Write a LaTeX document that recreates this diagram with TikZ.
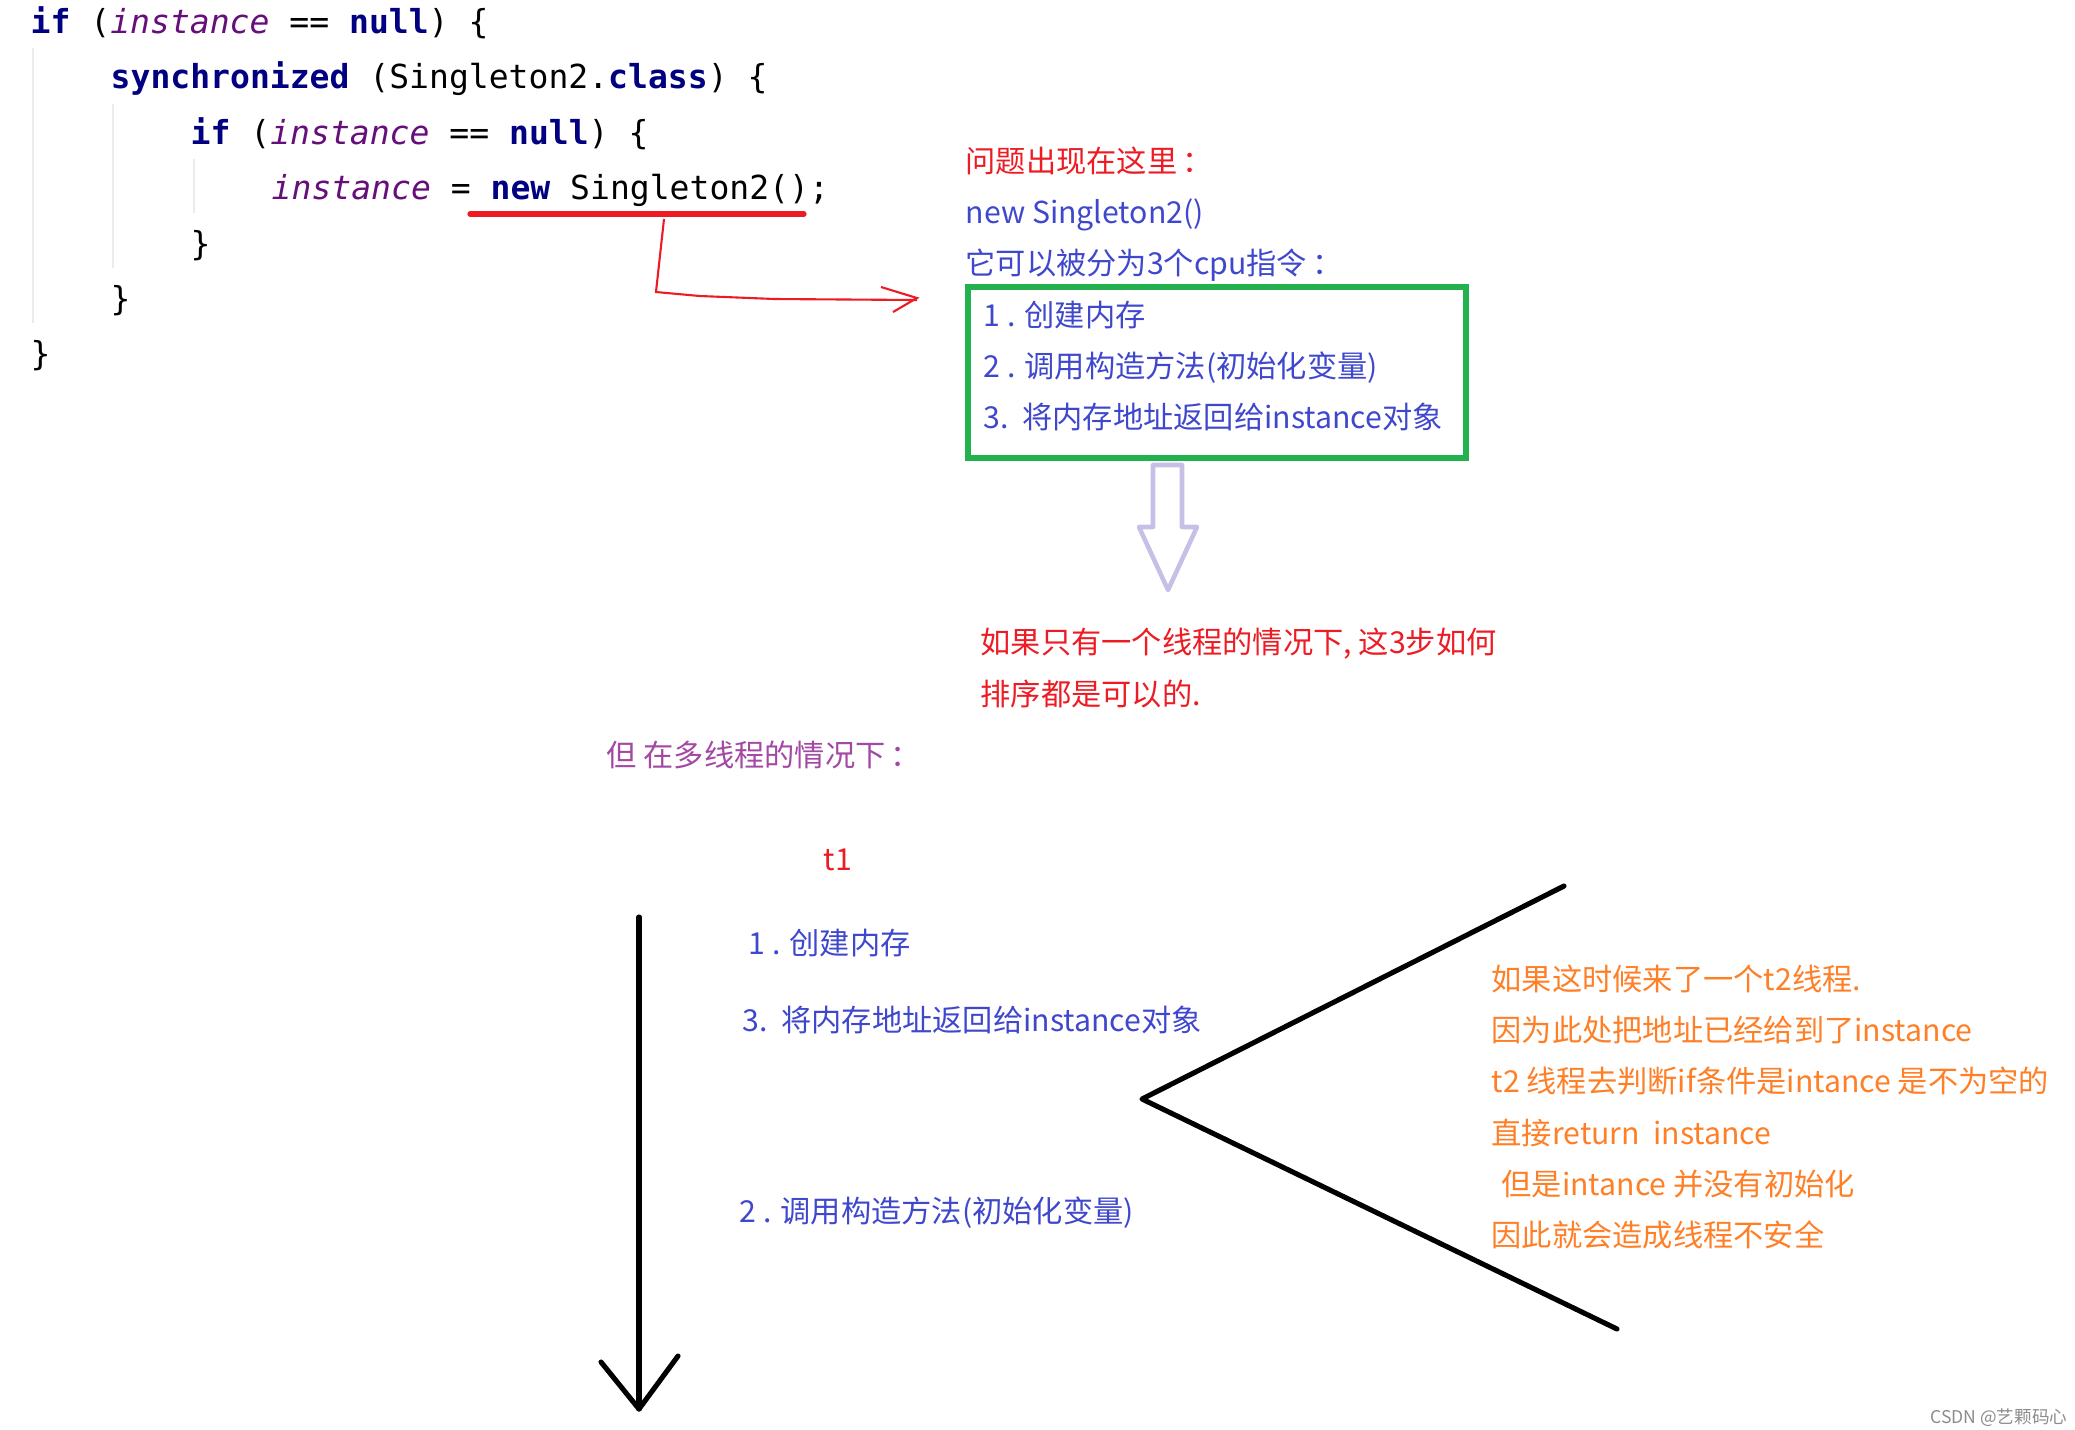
\documentclass[tikz,border=0pt]{standalone}
\usepackage{fontspec}
\setmainfont{Noto Sans CJK SC}
\setmonofont{DejaVu Sans Mono}
\definecolor{keyblue}{HTML}{000080}
\definecolor{fieldpurple}{HTML}{660E7A}
\definecolor{notered}{HTML}{ED1C24}
\definecolor{noteblue}{HTML}{3F48CC}
\definecolor{noteorange}{HTML}{FF7F27}
\definecolor{notepurple}{HTML}{A349A4}
\definecolor{boxgreen}{HTML}{22B14C}
\definecolor{arrowlilac}{HTML}{C8BFE7}
\newcommand{\kw}[1]{\textcolor{keyblue}{\bfseries #1}}
\newcommand{\fld}[1]{\textcolor{fieldpurple}{\itshape #1}}
\tikzset{
	codeline/.style={anchor=base west, inner sep=0pt, font=\ttfamily\fontsize{9.4pt}{11pt}\selectfont},
	note/.style={anchor=base west, inner sep=0pt, font=\fontsize{8.6pt}{10pt}\selectfont},
	guide/.style={draw=black!8, line width=0.3pt},
	pen/.style={line width=1.45pt, line cap=round, line join=round},
	thinpen/.style={notered, line width=0.6pt}
}
\begin{document}
\begin{tikzpicture}[x=0.01cm, y=-0.01cm]
\useasboundingbox (0, 0) rectangle (2075, 1429);

\foreach \gx/\gtop/\gbot in {33/48/323, 113/104/268, 194/159/213}
	\draw[guide] (\gx, \gtop) -- (\gx, \gbot);

\node[codeline] (line1) at (30, 33) {\kw{if} (\fld{instance} == \kw{null}) \{};
\node[codeline] (line2) at (110, 88) {\kw{synchronized} (Singleton2.\kw{class}) \{};
\node[codeline] (line3) at (190, 144) {\kw{if} (\fld{instance} == \kw{null}) \{};
\node[codeline] (line4) at (271, 199) {\fld{instance} = \kw{new} Singleton2();};
\node[codeline] (line5) at (190, 255) {\}};
\node[codeline] (line6) at (110, 310) {\}};
\node[codeline] (line7) at (30, 365) {\}};

\coordinate (underL) at (470, 214);
\coordinate (underR) at (804, 214);
\draw[notered, line width=1.5pt, line cap=round] (underL) -- (underR);

\coordinate (bendA) at (664, 219);
\coordinate (bendB) at (656, 292);
\coordinate (bendC) at (700, 296);
\coordinate (bendD) at (775, 299);
\coordinate (tipA) at (917, 300);
\draw[thinpen] (bendA) -- (bendB) -- (bendC) -- (bendD) -- (tipA);
\draw[thinpen] (881, 287) -- (917, 298) -- (893, 312);

\node[note, text=notered] (title) at (965, 172) {问题出现在这里\,：};
\node[note, text=noteblue] (newcall) at (965, 223) {new Singleton2()};
\node[note, text=noteblue] (split) at (965, 274) {它可以被分为3个cpu指令\,：};

\coordinate (boxNW) at (968, 287);
\coordinate (boxSE) at (1466, 458);
\draw[boxgreen, line width=1.5pt] (boxNW) rectangle (boxSE);
\node[note, text=noteblue] (boxa) at (983, 326) {1 . 创建内存};
\node[note, text=noteblue] (boxb) at (983, 377) {2 . 调用构造方法(初始化变量)};
\node[note, text=noteblue] (boxc) at (983, 428) {3.\ \ 将内存地址返回给instance对象};

\draw[arrowlilac, line width=1.3pt, line join=round] (1153, 465) -- (1182, 465) -- (1182, 527) -- (1197, 527)
	-- (1168, 590) -- (1139, 527) -- (1153, 527) -- cycle;

\node[note, text=notered] (single) at (980, 653) {如果只有一个线程的情况下, 这3步如何};
\node[note, text=notered] (single2) at (980, 705) {排序都是可以的.};
\node[note, text=notepurple] (multi) at (606, 766) {但 在多线程的情况下\,：};
\node[note, text=notered] (threadone) at (823, 870) {t1};

\node[note, text=noteblue] (stepa) at (748, 954) {1 . 创建内存};
\node[note, text=noteblue] (stepc) at (742, 1031) {3.\ \ 将内存地址返回给instance对象};
\node[note, text=noteblue] (stepb) at (739, 1222) {2 . 调用构造方法(初始化变量)};

\coordinate (timeTop) at (639, 917);
\coordinate (timeTip) at (639, 1409);
\draw[pen] (timeTop) -- (timeTip);
\draw[pen] (601, 1362) -- (timeTip) -- (678, 1356);

\coordinate (wedgeTop) at (1564, 886);
\coordinate (wedgeTip) at (1142, 1099);
\coordinate (wedgeBot) at (1617, 1329);
\draw[pen] (wedgeTop) -- (wedgeTip) -- (wedgeBot);

\node[note, text=noteorange] (whya) at (1491, 990) {如果这时候来了一个t2线程.};
\node[note, text=noteorange] (whyb) at (1491, 1041) {因为此处把地址已经给到了instance};
\node[note, text=noteorange] (whyc) at (1491, 1092) {t2 线程去判断if条件是intance 是不为空的};
\node[note, text=noteorange] (whyd) at (1491, 1144) {直接return\ \ instance};
\node[note, text=noteorange] (whye) at (1501, 1195) {但是intance 并没有初始化};
\node[note, text=noteorange] (whyf) at (1491, 1246) {因此就会造成线程不安全};

\node[anchor=base east, inner sep=0pt, text=black!45, font=\fontsize{5pt}{6pt}\selectfont] (mark) at (2068, 1423) {CSDN @艺颗码心};
\end{tikzpicture}
\end{document}
